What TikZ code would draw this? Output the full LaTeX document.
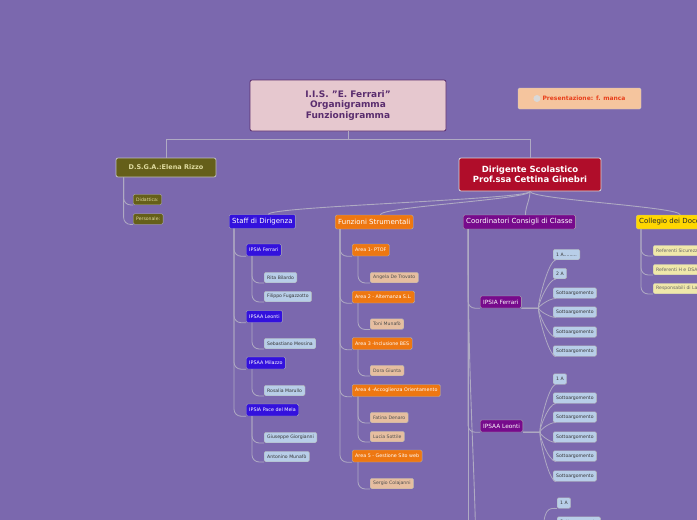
\documentclass[tikz,border=0pt]{standalone}
\usepackage{fontspec}
\setmainfont{DejaVu Sans}
\definecolor{bg}{RGB}{123,104,174}
\definecolor{tbord}{RGB}{90,45,110}
\definecolor{tfill}{RGB}{230,200,207}
\definecolor{pfill}{RGB}{245,197,158}
\definecolor{ptext}{RGB}{232,64,28}
\definecolor{oliv}{RGB}{101,95,25}
\definecolor{olivt}{RGB}{224,220,160}
\definecolor{dirc}{RGB}{176,13,42}
\definecolor{staffc}{RGB}{51,17,221}
\definecolor{funzc}{RGB}{238,119,17}
\definecolor{coordc}{RGB}{119,10,140}
\definecolor{collc}{RGB}{255,215,0}
\definecolor{persc}{RGB}{184,206,232}
\definecolor{pers2c}{RGB}{230,190,160}
\definecolor{collf}{RGB}{240,232,170}
\definecolor{linec}{RGB}{175,170,195}
\begin{document}
\begin{tikzpicture}[x=1pt,y=-1pt,
 box/.style={draw=white!70!black, line width=0.4pt, rounded corners=1.5pt, anchor=west, inner ysep=0pt, inner xsep=3pt, minimum height=#1},
 box/.default=11,
 small/.style={box=10.5, font=\fontsize{4.6}{5}\selectfont},
 mid/.style={box=12, font=\fontsize{4.8}{5}\selectfont},
 big/.style={box=14, font=\fontsize{7}{8}\selectfont},
 pers/.style={small, fill=persc, text=black!80},
 pers2/.style={small, fill=pers2c, text=black!70},
 coll/.style={small, fill=collf, text=black!60},
 olive/.style={small, fill=oliv, text=olivt},
 conn/.style={draw=linec, line width=0.8pt, rounded corners=7pt},
 trunk/.style={draw=linec, line width=0.9pt}]
\fill[bg] (0,0) rectangle (697,520);
\useasboundingbox (0,0) rectangle (697,520);
\begin{scope}
\clip (0,0) rectangle (697,520);
% main
\node[draw=tbord, line width=0.8pt, fill=tfill, text=tbord, rounded corners=2pt, minimum width=196, minimum height=51, align=center, font=\fontsize{9}{10.5}\selectfont\bfseries] (title) at (348,105.5) {I.I.S. "E. Ferrari"\\Organigramma\\Funzionigramma};
\node[fill=pfill, draw=white!80!black, rounded corners=1.5pt, minimum width=123, minimum height=21, text=ptext, font=\fontsize{6}{7}\selectfont\bfseries] (pres) at (579.5,98.5) {\tikz[baseline=-2pt]\fill[white!85!black] (0,0) circle (3.5pt);\ Presentazione: f. manca};
\node[draw=white!75!black, line width=0.8pt, fill=oliv, text=olivt, rounded corners=2pt, minimum width=100, minimum height=19, font=\fontsize{6.5}{7}\selectfont\bfseries] (dsga) at (166,167.5) {D.S.G.A.:Elena Rizzo};
\node[draw=white!85!black, line width=0.8pt, fill=dirc, text=white, rounded corners=2pt, minimum width=142, minimum height=33, align=center, font=\fontsize{8.5}{10}\selectfont\bfseries] (dir) at (530,174.5) {Dirigente Scolastico\\Prof.ssa Cettina Ginebri};
\draw[trunk] (title.south) -- ++(0,8) -| (dsga.north);
\draw[trunk] (title.south) -- ++(0,8) -| (dir.north);
\node[olive] (did) at (133,199.5) {Didattica:};
\node[olive] (per) at (133,219) {Personale:};
\draw[conn] ([xshift=8]dsga.south west) |- (did.south west);
\draw[conn] ([xshift=8]dsga.south west) |- (per.south west);
% branches
\node[big, fill=staffc, text=white] (staff) at (229,221.5) {Staff di Dirigenza};
\node[big, fill=funzc, text=white] (funz) at (335,222) {Funzioni Strumentali};
\node[big, fill=coordc, text=white] (coord) at (463,222) {Coordinatori Consigli di Classe};
\node[big, fill=collc, text=black!85] (coll) at (636,222) {Collegio dei Docenti};
\foreach \b in {staff,funz,coord,coll}
  \draw[trunk] (dir.south) .. controls +(0,8) and +(0,-8) .. ([xshift=6]\b.north);
% staff
\node[mid, fill=staffc, text=white] (s1) at (246,250) {IPSIA Ferrari};
\node[pers] (s1a) at (264,277.5) {Rita Bilardo};
\node[pers] (s1b) at (264,296.5) {Filippo Fugazzotto};
\node[mid, fill=staffc, text=white] (s2) at (246,316.5) {IPSAA Leonti};
\node[pers] (s2a) at (264,343.5) {Sebastiano Messina};
\node[mid, fill=staffc, text=white] (s3) at (246,363) {IPSAA Milazzo};
\node[pers] (s3a) at (264,390.5) {Rosalia Marullo};
\node[mid, fill=staffc, text=white] (s4) at (246,410) {IPSIA Pace del Mela};
\node[pers] (s4a) at (264,437.5) {Giuseppe Giorgianni};
\node[pers] (s4b) at (264,456.5) {Antonino Munafò};
\foreach \c in {s1,s2,s3,s4} \draw[conn] ([xshift=5]staff.south west) |- (\c.south west);
\foreach \p/\c in {s1/s1a,s1/s1b,s2/s2a,s3/s3a,s4/s4a,s4/s4b} \draw[conn] ([xshift=6]\p.south west) |- (\c.south west);
% funzioni
\node[mid, fill=funzc, text=white] (f1) at (352,250) {Area 1- PTOF};
\node[pers2] (f1a) at (370,277.5) {Angela De Trovato};
\node[mid, fill=funzc, text=white] (f2) at (352,297) {Area 2 - Alternanza S.L.};
\node[pers2] (f2a) at (370,324) {Toni Munafò};
\node[mid, fill=funzc, text=white] (f3) at (352,343.5) {Area 3 -Inclusione BES};
\node[pers2] (f3a) at (370,370.5) {Dora Giunta};
\node[mid, fill=funzc, text=white] (f4) at (352,390.5) {Area 4 -Accoglienza Orientamento};
\node[pers2] (f4a) at (370,417.5) {Fatina Denaro};
\node[pers2] (f4b) at (370,436.5) {Lucia Sottile};
\node[mid, fill=funzc, text=white] (f5) at (352,456) {Area 5 - Gestione Sito web};
\node[pers2] (f5a) at (370,483.5) {Sergio Colajanni};
\foreach \c in {f1,f2,f3,f4,f5} \draw[conn] ([xshift=5]funz.south west) |- (\c.south west);
\foreach \p/\c in {f1/f1a,f2/f2a,f3/f3a,f4/f4a,f4/f4b,f5/f5a} \draw[conn] ([xshift=6]\p.south west) |- (\c.south west);
% coordinatori
\node[mid, fill=coordc, text=white, font=\fontsize{5.8}{6}\selectfont] (c1) at (480,302) {IPSIA Ferrari};
\node[mid, fill=coordc, text=white, font=\fontsize{5.8}{6}\selectfont] (c2) at (480,426) {IPSAA Leonti};
\foreach \c in {c1,c2} \draw[conn] ([xshift=5]coord.south west) |- (\c.south west);
\draw[trunk] ([xshift=5]coord.south west) -- ++(0,320);
\draw[trunk] ([xshift=5]coord.south west) .. controls +(0,150) and +(-2,-100) .. ++(8,320);
\node[pers] (k1) at (553,254.5) {1 A.........};
\node[pers] (k2) at (553,273.5) {2 A};
\node[pers] (k3) at (553,293) {Sottoargomento};
\node[pers] (k4) at (553,312) {Sottoargomento};
\node[pers] (k5) at (553,332) {Sottoargomento};
\node[pers] (k6) at (553,351) {Sottoargomento};
\foreach \c in {k1,k2,k3,k4,k5,k6} \draw[conn] (c1.south east) -- ++(10,0) .. controls +(5,0) and +(-8,0) .. ([xshift=3]\c.south west);
\node[pers] (m1) at (553,379) {1 A};
\node[pers] (m2) at (553,398) {Sottoargomento};
\node[pers] (m3) at (553,417) {Sottoargomento};
\node[pers] (m4) at (553,437) {Sottoargomento};
\node[pers] (m5) at (553,456) {Sottoargomento};
\node[pers] (m6) at (553,476) {Sottoargomento};
\foreach \c in {m1,m2,m3,m4,m5,m6} \draw[conn] (c2.south east) -- ++(10,0) .. controls +(5,0) and +(-8,0) .. ([xshift=3]\c.south west);
\node[pers] (n1) at (557,503) {1 A};
\node[pers] (n2) at (557,522) {Sottoargomento};
\coordinate (nroot) at (543,540);
\draw[conn] (nroot) .. controls (543,508) and (548,508) .. (n1.south west);
% collegio
\node[coll] (g1) at (653,250.5) {Referenti Sicurezza};
\node[coll] (g2) at (653,269.5) {Referenti H e DSA};
\node[coll] (g3) at (653,288.5) {Responsabili di Laboratorio};
\foreach \c in {g1,g2,g3} \draw[conn] ([xshift=5]coll.south west) |- (\c.south west);
\end{scope}
\end{tikzpicture}
\end{document}
